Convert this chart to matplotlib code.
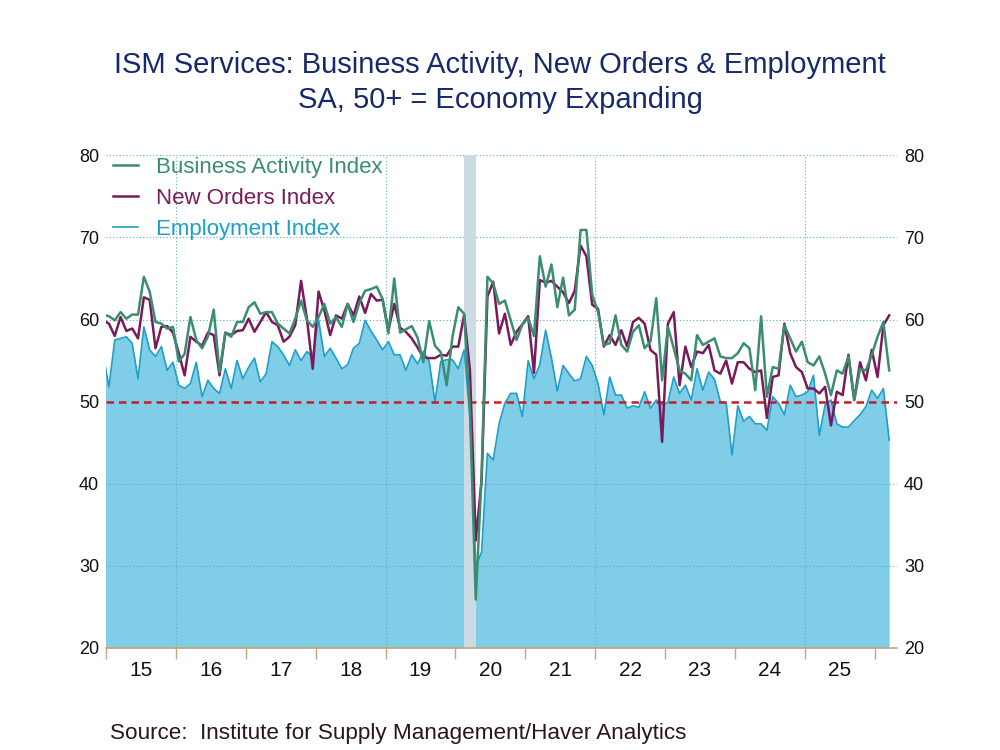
import numpy as np
import matplotlib.pyplot as plt

plt.rcParams['font.family'] = ['Liberation Sans', 'DejaVu Sans']

# monthly, Dec 2014 .. Mar 2026
first_year, first_month = 2014, 12

business_activity = [
    60.6,
    60.4, 59.9, 60.9, 60.1, 60.6, 60.6, 65.2, 63.4, 59.7, 59.5, 58.9, 59.1,
    54.9, 55.8, 60.3, 57.5, 56.5, 57.9, 61.2, 53.6, 58.4, 57.9, 59.7, 59.7,
    61.5, 62.1, 60.7, 60.9, 60.9, 59.5, 58.9, 58.3, 60.1, 62.3, 59.9, 59.1,
    60.3, 61.9, 59.5, 60.3, 59.1, 61.9, 59.7, 62.0, 63.5, 63.7, 64.0, 62.5,
    58.3, 65.0, 58.4, 58.8, 59.2, 57.8, 54.8, 59.8, 56.8, 56.0, 52.0, 57.9,
    61.5, 60.7, 49.0, 25.9, 41.0, 65.2, 64.4, 61.9, 62.3, 59.9, 57.5, 59.4,
    60.2, 58.0, 67.7, 64.0, 66.7, 61.5, 65.1, 60.5, 61.2, 70.9, 70.9, 63.0,
    60.9, 56.9, 57.1, 60.5, 56.9, 56.1, 58.5, 59.3, 56.5, 57.3, 62.6, 52.6,
    59.1, 56.5, 53.8, 53.4, 52.6, 58.1, 56.9, 57.3, 57.7, 55.5, 55.3, 55.3,
    55.9, 57.1, 56.5, 51.4, 60.4, 50.6, 54.2, 54.0, 59.3, 57.7, 56.1, 57.3,
    54.8, 54.4, 55.5, 53.4, 50.8, 53.8, 53.4, 55.5, 50.2, 54.0, 53.8, 55.7,
    57.9, 59.7, 53.8,
]

new_orders = [
    59.9,
    59.5, 58.0, 60.3, 58.6, 58.9, 57.7, 62.7, 62.4, 56.5, 59.1, 59.2, 58.4,
    55.9, 53.2, 57.9, 57.3, 56.8, 58.4, 58.1, 53.2, 58.4, 58.1, 58.6, 58.7,
    60.1, 58.5, 59.7, 60.9, 59.7, 59.3, 57.3, 57.9, 59.3, 64.7, 60.1, 54.0,
    63.4, 61.1, 58.1, 60.5, 60.1, 61.9, 60.5, 62.8, 60.8, 63.1, 62.3, 62.4,
    58.7, 61.9, 59.0, 58.5, 57.7, 56.6, 55.4, 55.3, 55.3, 55.7, 55.6, 56.7,
    56.7, 60.6, 53.8, 33.1, 40.4, 62.8, 64.6, 58.3, 60.7, 56.9, 58.5, 59.4,
    60.4, 53.5, 64.8, 64.5, 64.7, 64.0, 63.3, 62.0, 63.5, 69.0, 67.7, 61.8,
    61.3, 56.7, 58.1, 56.9, 58.7, 56.7, 59.7, 60.2, 59.5, 56.3, 55.7, 45.1,
    59.5, 60.9, 52.0, 56.7, 54.2, 56.1, 55.9, 56.9, 53.8, 53.4, 55.0, 52.2,
    54.8, 54.8, 54.0, 53.6, 53.8, 48.0, 53.0, 53.2, 59.5, 55.9, 54.2, 53.6,
    51.6, 51.6, 51.0, 51.8, 47.1, 51.2, 50.8, 55.7, 50.2, 54.8, 52.6, 56.3,
    53.0, 59.3, 60.5,
]

employment = [
    55.8,
    51.8, 57.5, 57.7, 57.9, 57.1, 52.8, 59.1, 56.3, 55.5, 56.7, 53.8, 54.8,
    52.0, 51.6, 52.2, 54.8, 50.6, 52.6, 51.6, 51.0, 54.0, 51.6, 55.0, 52.8,
    54.2, 55.3, 52.4, 53.4, 57.3, 56.7, 55.7, 54.4, 56.3, 55.0, 56.1, 55.5,
    60.0, 55.5, 56.5, 55.3, 54.0, 54.5, 56.5, 57.1, 59.9, 58.6, 57.5, 56.3,
    57.3, 55.7, 55.7, 53.8, 55.7, 54.6, 56.1, 54.9, 50.0, 54.9, 55.1, 55.1,
    54.0, 56.3, 48.0, 29.9, 31.7, 43.7, 42.9, 47.3, 49.8, 51.0, 51.0, 48.2,
    55.0, 52.8, 54.5, 58.7, 55.3, 51.3, 54.4, 53.4, 52.5, 52.8, 55.5, 54.4,
    52.2, 48.4, 53.0, 50.8, 50.8, 49.2, 49.5, 49.3, 51.2, 49.2, 50.2, 49.6,
    49.9, 53.0, 51.0, 52.0, 50.2, 54.0, 51.4, 53.6, 52.7, 50.0, 49.9, 43.5,
    49.5, 47.6, 48.2, 47.3, 47.3, 46.5, 50.6, 49.8, 48.4, 52.0, 50.6, 50.8,
    51.2, 53.2, 45.9, 49.6, 50.2, 47.3, 46.9, 46.9, 47.7, 48.4, 49.4, 51.4,
    50.4, 51.6, 45.3,
]

year_labels = ['15', '16', '17', '18', '19', '20', '21', '22', '23', '24', '25']
recession = ((2020, 2), (2020, 4))   # Feb 2020 - Apr 2020

# mid-month positions in decimal years
n = len(employment)
t = first_year + (np.arange(n) + first_month - 1 + 0.5) / 12
rec_start = recession[0][0] + (recession[0][1] - 0.5) / 12
rec_end = recession[1][0] + (recession[1][1] - 0.5) / 12

c_ba = '#3a8e6f'
c_no = '#7a1a5c'
c_em = '#1e9ec9'
c_fill = '#7fcde6'
c_grid = '#5aaebf'
c_axis = '#c8a47a'

fig = plt.figure(figsize=(10, 7.5), dpi=100)
ax = fig.add_axes([0.106, 0.136, 0.791, 0.657])
ax.set_xlim(2015, 2026.32)
ax.set_ylim(20, 80)

for y in [30, 40, 60, 70, 80]:
    ax.axhline(y, color=c_grid, lw=0.8, ls=(0, (1, 2)), zorder=1.5)
for yr in [2016, 2019, 2022, 2025]:
    ax.axvline(yr, color=c_grid, lw=0.8, ls=(0, (1, 2)), zorder=1.5)

ax.fill_between(t, 20, employment, color=c_fill, lw=0, zorder=1)
ax.axvspan(rec_start, rec_end, color='#cddce4', lw=0, zorder=1.8)
ax.axhline(50, color='#c41f27', lw=1.8, ls=(0, (3, 2)), zorder=2.6)

h_em, = ax.plot(t, employment, color=c_em, lw=1.2, zorder=2.5)
h_no, = ax.plot(t, new_orders, color=c_no, lw=1.8, zorder=3)
h_ba, = ax.plot(t, business_activity, color=c_ba, lw=1.8, zorder=3.1)

leg = ax.legend([h_ba, h_no, h_em],
                ['Business Activity Index', 'New Orders Index', 'Employment Index'],
                loc='upper left', bbox_to_anchor=(0.009, 0.996), frameon=False,
                fontsize=16, handlelength=1.1, handletextpad=0.85,
                labelspacing=0.45, borderpad=0, borderaxespad=0,
                labelcolor=[c_ba, c_no, c_em])
leg.set_zorder(5)

for s in ['top', 'left', 'right']:
    ax.spines[s].set_visible(False)
ax.spines['bottom'].set_color(c_axis)
ax.spines['bottom'].set_linewidth(1.2)

# year boundaries get tick marks, labels sit mid-year
ax.set_xticks(np.arange(2015, 2027))
ax.set_xticklabels([])
ax.set_xticks(np.arange(2015, 2026) + 0.5, minor=True)
ax.set_xticklabels(year_labels, minor=True,
                   family=['Liberation Sans Narrow', 'Liberation Sans'])
ax.tick_params(axis='x', which='major', length=8, width=1, color=c_axis)
ax.tick_params(axis='x', which='minor', length=0, pad=9, labelsize=15,
               labelcolor='#111111')

ax.set_yticks([20, 30, 40, 50, 60, 70, 80])
ax.tick_params(axis='y', length=0, labelsize=13, labelleft=True,
               labelright=True, pad=5, labelcolor='#111111')

fig.text(0.5, 1 - 65 / 750, 'ISM Services: Business Activity, New Orders & Employment',
         ha='center', va='center', fontsize=21, color='#16296b')
fig.text(0.5, 1 - 100 / 750, 'SA, 50+ = Economy Expanding',
         ha='center', va='center', fontsize=21, color='#16296b')
fig.text(0.110, 1 - 733 / 750, 'Source:  Institute for Supply Management/Haver Analytics',
         ha='left', va='center', fontsize=16.2, color='#2a1616',
         family=['Liberation Sans Narrow', 'Liberation Sans'])

fig.savefig('out.png', dpi=100)
